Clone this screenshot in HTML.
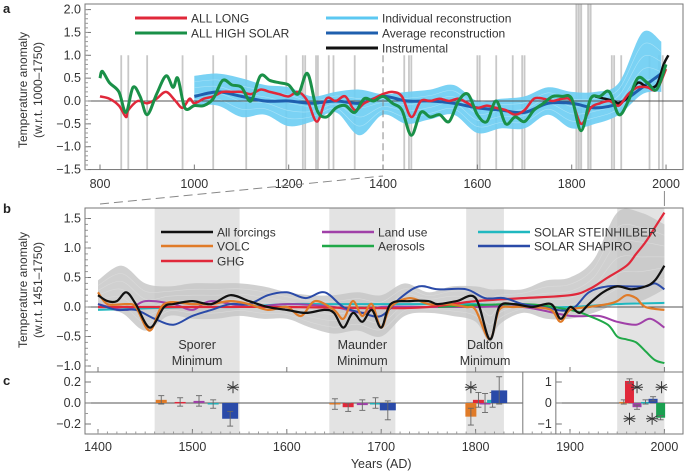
<!DOCTYPE html>
<html><head><meta charset="utf-8"><style>
html,body{margin:0;padding:0;background:#fff;}
svg{display:block;font-family:"Liberation Sans",sans-serif;}
</style></head><body>
<svg id="fig" width="685" height="471" viewBox="0 0 685 471"></svg>
<script>
// ---------- Panel a data ----------
const redYears=[800,820,840,855,860,880,900,920,940,960,975,990,1000,1020,1040,1060,1080,1100,1120,1140,1160,1180,1200,1220,1240,1260,1280,1300,1320,1340,1360,1380,1400,1420,1440,1460,1480,1500,1520,1540,1560,1580,1600,1620,1640,1660,1680,1700,1720,1740,1760,1780,1800,1820,1840,1860,1880,1900,1920,1940,1960,1980,2000];
const redVals=[0.1,0.05,-0.1,-0.35,-0.2,0.0,-0.05,0.05,0.2,0.0,-0.15,0.05,-0.05,0.05,0.1,0.2,0.2,0.2,0.15,0.25,0.2,0.15,0.1,0.2,0.0,-0.45,0.05,0.0,0.1,-0.2,-0.05,0.05,0.15,0.2,0.1,-0.35,0.0,0.0,0.05,0.0,0.05,-0.05,-0.15,-0.1,-0.15,-0.2,-0.3,-0.2,0.05,0.05,0.0,0.05,0.0,-0.5,-0.15,-0.05,0.0,-0.1,0.15,0.3,0.3,0.25,0.7];
const greenYears=[800,805,820,840,855,870,885,900,920,940,955,965,980,1000,1020,1040,1060,1080,1100,1120,1140,1160,1180,1200,1220,1240,1260,1280,1300,1320,1340,1360,1380,1400,1420,1440,1460,1480,1500,1520,1540,1560,1580,1600,1620,1640,1660,1680,1700,1720,1740,1760,1780,1800,1820,1840,1860,1880,1900,1920,1940,1960,1980,2000];
const greenVals=[0.5,0.65,0.4,0.2,-0.25,0.3,0.1,-0.3,0.15,0.55,0.3,0.5,-0.15,-0.1,-0.1,0.05,0.45,0.35,0.3,0.0,0.55,0.45,0.4,0.35,0.15,0.6,-0.2,-0.35,-0.15,-0.1,-0.25,0.05,0.0,0.1,-0.05,-0.2,-0.75,-0.25,-0.35,-0.3,-0.45,0.0,0.15,-0.3,-0.45,0.0,-0.5,-0.35,-0.45,-0.2,-0.05,0.1,0.1,0.05,-0.65,0.05,0.1,0.2,-0.3,0.0,0.5,0.4,0.25,0.8];
const avgYears=[1000,1050,1100,1150,1200,1250,1300,1350,1400,1450,1500,1550,1600,1650,1700,1750,1800,1850,1900,1950,1990];
const avgVals=[0.1,0.2,0.1,0.0,0.0,-0.05,0.0,-0.05,0.1,0.0,0.0,-0.05,-0.15,-0.2,-0.25,-0.05,-0.05,-0.15,-0.05,0.3,0.6];
const ensUpper=[0.55,0.6,0.5,0.35,0.3,0.1,0.2,0.25,0.15,0.2,0.25,0.35,0.0,0.05,0.1,0.3,0.2,0.2,0.4,1.5,1.3];
const ensLower=[-0.1,-0.1,-0.35,-0.3,-0.55,-0.45,-0.25,-0.75,-0.3,-0.5,-0.4,-0.3,-0.7,-0.6,-0.6,-0.3,-0.6,-0.5,-0.3,0.15,0.2];
const instYears=[1850,1870,1890,1900,1920,1940,1960,1980,1995,2005];
const instVals=[0.1,0.05,0.0,-0.05,0.1,0.4,0.3,0.35,0.8,1.0];
const volcYears=[845,860,900,975,1040,1110,1195,1230,1235,1258,1262,1285,1295,1340,1445,1455,1460,1600,1605,1640,1675,1695,1700,1885,1890,1905,1965,1985,1993];
const volcTall=[1810,1815,1820,1835,1840];
const aTicksX=[800,1000,1200,1400,1600,1800,2000];
const aTicksY=[2.0,1.5,1.0,0.5,0.0,-0.5,-1.0,-1.5];

// ---------- Panel b data ----------
const bEnsYears=[1400,1425,1450,1475,1500,1525,1550,1575,1600,1625,1650,1675,1700,1725,1750,1775,1800,1815,1825,1850,1875,1900,1925,1950,1975,2000];
const bEnsUpper=[0.45,0.7,0.4,0.35,0.4,0.4,0.4,0.35,0.25,0.2,0.2,0.25,0.2,0.4,0.25,0.35,0.35,0.3,0.3,0.3,0.45,0.5,0.8,1.6,1.6,1.4];
const bEnsLower=[-0.05,-0.1,-0.4,-0.15,-0.2,-0.2,-0.15,-0.2,-0.2,-0.35,-0.45,-0.4,-0.5,-0.15,-0.1,-0.15,-0.25,-0.6,-0.3,-0.1,-0.2,-0.2,-0.1,0.05,0.1,0.3];
const allYears=[1400,1410,1420,1430,1440,1455,1470,1480,1500,1520,1540,1560,1580,1600,1620,1640,1650,1660,1670,1680,1690,1700,1710,1730,1750,1760,1780,1800,1815,1825,1840,1860,1880,1890,1900,1910,1920,1935,1950,1965,1980,1990,2000];
const allVals=[0.2,0.1,0.1,0.25,0.05,-0.35,0.0,0.05,0.1,0.05,0.2,0.1,0.0,-0.05,-0.1,-0.05,-0.1,-0.35,-0.1,-0.25,-0.05,-0.35,0.05,0.1,0.1,0.05,0.1,0.15,-0.55,0.0,0.05,0.0,0.05,-0.2,0.0,-0.1,0.05,0.25,0.35,0.3,0.35,0.45,0.7];
const volcBYears=[1400,1410,1430,1440,1455,1470,1500,1520,1540,1560,1580,1600,1615,1630,1650,1660,1670,1680,1690,1700,1710,1730,1750,1770,1790,1800,1815,1825,1840,1860,1880,1890,1900,1920,1940,1950,1960,1970,1980,2000];
const volcBVals=[0.25,0.05,0.05,0.0,-0.4,0.05,0.05,0.05,0.1,0.05,-0.05,0.0,-0.15,0.1,-0.05,-0.2,0.1,-0.15,0.05,-0.35,0.0,0.15,0.05,0.05,0.0,-0.05,-0.55,-0.05,0.0,0.0,-0.05,-0.25,-0.05,0.0,0.05,0.1,0.2,0.15,0.0,-0.05];
const ghgYears=[1400,1500,1600,1700,1750,1800,1850,1900,1920,1940,1960,1970,1980,1990,2000];
const ghgVals=[0.0,0.0,0.0,-0.02,0.0,0.1,0.15,0.2,0.3,0.5,0.7,0.9,1.1,1.35,1.6];
const landYears=[1400,1430,1450,1480,1500,1520,1560,1600,1650,1680,1700,1750,1800,1850,1900,1930,1950,1970,1985,2000];
const landVals=[0.05,-0.05,0.1,0.05,-0.05,0.1,0.0,0.05,0.0,-0.1,0.0,0.0,0.0,0.0,-0.15,-0.15,-0.25,-0.3,-0.2,-0.35];
const aerYears=[1760,1850,1900,1920,1940,1950,1960,1970,1980,1990,2000];
const aerVals=[0.0,0.05,-0.05,-0.15,-0.3,-0.5,-0.55,-0.6,-0.75,-0.9,-0.95];
const steinYears=[1400,1500,1550,1600,1650,1700,1750,1800,1850,1900,1950,2000];
const steinVals=[-0.05,0.0,0.0,0.05,0.05,0.05,0.05,0.05,0.0,0.0,0.05,0.07];
const shapYears=[1400,1420,1440,1460,1480,1500,1520,1540,1560,1580,1600,1620,1640,1660,1680,1700,1720,1740,1760,1790,1810,1830,1850,1870,1900,1920,1940,1960,1980,1990,2000];
const shapVals=[0.05,-0.05,-0.05,-0.2,-0.3,-0.15,-0.05,0.05,0.05,0.2,0.25,0.15,0.25,0.0,-0.1,-0.15,0.15,0.35,0.3,0.3,0.15,0.15,0.05,0.0,-0.05,0.25,0.35,0.35,0.35,0.4,0.3];
const bands=[[1460,1550],[1645,1715],[1790,1830],[1950,2000]];
const bTicksY=[1.5,1.0,0.5,0.0,-0.5,-1.0];
const bcTicksX=[1400,1500,1600,1700,1800,1900,2000];

// ---------- Panel c data ----------
const cYears=[1467,1487,1507,1522,1540,1651,1665,1680,1694,1707,1795,1803,1810,1818,1825];
const cVals=[0.03,0.01,0.02,-0.01,-0.15,-0.01,-0.04,-0.02,0.0,-0.07,-0.13,0.03,0.0,0.03,0.12];
const cErr=[0.04,0.04,0.05,0.04,0.07,0.05,0.04,0.05,0.05,0.09,0.08,0.07,0.09,0.07,0.13];
const cColors=["#e07b28","#e0283a","#a040a8","#20b0b8","#2a4aa8","#e07b28","#e0283a","#a040a8","#20b0b8","#2a4aa8","#e07b28","#e0283a","#a040a8","#20b0b8","#2a4aa8"];
const cRYears=[1957,1963,1971,1980,1988,1996];
const cRVals=[0.05,1.05,-0.2,0.05,0.2,-0.7];
const cRColors=["#e07b28","#e0283a","#a040a8","#20b0b8","#2a4aa8","#1aa050"];
const starL=[[1543,0.15],[1795,0.15]];
const starR=[[1963,-0.75],[1971,0.75],[1987,-0.75],[1997,0.75]];

// ---------- helpers ----------
const NS="http://www.w3.org/2000/svg";
const svg=document.getElementById('fig');
function mk(tag,attrs,parent){const e=document.createElementNS(NS,tag);for(const k in attrs)e.setAttribute(k,attrs[k]);(parent||svg).appendChild(e);return e;}
function txt(s,x,y,attrs){const e=mk('text',Object.assign({x:x,y:y,'font-size':12,fill:'#333'},attrs||{}));e.textContent=s;return e;}
function smooth(pts){let d='M'+pts[0][0].toFixed(1)+','+pts[0][1].toFixed(1);for(let i=0;i<pts.length-1;i++){const p0=pts[i-1]||pts[i],p1=pts[i],p2=pts[i+1],p3=pts[i+2]||p2;const c1x=p1[0]+(p2[0]-p0[0])/6,c1y=p1[1]+(p2[1]-p0[1])/6,c2x=p2[0]-(p3[0]-p1[0])/6,c2y=p2[1]-(p3[1]-p1[1])/6;d+='C'+c1x.toFixed(1)+','+c1y.toFixed(1)+' '+c2x.toFixed(1)+','+c2y.toFixed(1)+' '+p2[0].toFixed(1)+','+p2[1].toFixed(1);}return d;}

// ---------- axes ----------
const ax=y=>100+(y-800)*0.4717, ay=v=>101-v*45.7;
const bx=y=>98+(y-1400)*0.944, by=v=>307-v*59;
const cy=v=>403-v*105, cyR=v=>403-v*21;
const L=85,R=683;

// ===== Panel a =====
const gA=mk('g',{});


volcYears.forEach(y=>{const l=mk('line',{x1:ax(y),x2:ax(y),y1:ay(1.0),y2:ay(-1.5),stroke:'#c8c8c8','stroke-width':1.8},gA);});
volcTall.forEach(y=>{const l=mk('line',{x1:ax(y),x2:ax(y),y1:4,y2:ay(-1.5),stroke:'#c8c8c8','stroke-width':2},gA);});
(function(){const up=avgYears.map((y,i)=>[ax(y),ay(ensUpper[i])]);const lo=avgYears.map((y,i)=>[ax(y),ay(ensLower[i])]).reverse();
const p=mk('path',{d:smooth(up)+'L'+smooth(lo).slice(1)+'Z',fill:'#6ccdf3',opacity:0.9},gA);
for(let k=1;k<5;k++){const f=k/5;const pts=avgYears.map((y,i)=>[ax(y),ay(ensLower[i]+(ensUpper[i]-ensLower[i])*f)]);const l=mk('path',{d:smooth(pts),fill:'none',stroke:'#a6e2f8','stroke-width':0.6},gA);}})();
mk('line',{x1:L,x2:R,y1:ay(0),y2:ay(0),stroke:'#555','stroke-width':1},gA);
mk('line',{x1:ax(1400),x2:ax(1400),y1:ay(1.0),y2:ay(-1.5),stroke:'#888','stroke-width':1,'stroke-dasharray':'7,4'},gA);
function series(g,yrs,vals,X,Y,col,w,name){const p=mk('path',{d:smooth(yrs.map((y,i)=>[X(y),Y(vals[i])])),fill:'none',stroke:col,'stroke-width':w,'stroke-linejoin':'round'},g);return p;}
series(gA,avgYears,avgVals,ax,ay,'#1f5fae',3,'average-reconstruction-line');
series(gA,instYears,instVals,ax,ay,'#111',2.5,'instrumental-line');
series(gA,redYears,redVals,ax,ay,'#e0283a',2.5,'all-long-line');
series(gA,greenYears,greenVals,ax,ay,'#1a9048',3,'all-high-solar-line');
mk('rect',{x:L,y:4,width:R-L,height:ay(-1.5)-4,fill:'none',stroke:'#777','stroke-width':1},gA);
aTicksY.forEach(v=>{mk('line',{x1:L,x2:L+6,y1:ay(v),y2:ay(v),stroke:'#777'},gA);const t=txt(v.toFixed(1).replace('-','−'),L-4,ay(v)+4,{'text-anchor':'end','font-size':12.5});});
for(let v=-1.5;v<=2.0001;v+=0.1){mk('line',{x1:L,x2:L+3,y1:ay(v),y2:ay(v),stroke:'#999'},gA);}
aTicksX.forEach(y=>{mk('line',{x1:ax(y),x2:ax(y),y1:ay(-1.5),y2:ay(-1.5)-5,stroke:'#777'},gA);const t=txt(String(y),ax(y),188,{'text-anchor':'middle','font-size':12.5});});
let t=txt('Temperature anomaly',27,90,{'text-anchor':'middle','font-size':12,transform:'rotate(-90 27 90)'});
t=txt('(w.r.t. 1000–1750)',42,90,{'text-anchor':'middle','font-size':12,transform:'rotate(-90 42 90)'});
t=txt('a',3,13,{'font-weight':'bold','font-size':13,fill:'#222'});
function legend(g,x,y,col,label,w){const l=mk('line',{x1:x,x2:x+52,y1:y,y2:y,stroke:col,'stroke-width':w||3},g);const tt=txt(label,x+56,y+4.5,{'font-size':12});}
legend(gA,135,18,'#e0283a','ALL LONG');
legend(gA,135,33,'#1a9048','ALL HIGH SOLAR');
legend(gA,326,18,'#5cc8f2','Individual reconstruction');
legend(gA,326,33,'#1f5fae','Average reconstruction');
legend(gA,326,48,'#111','Instrumental');

mk('line',{x1:100,x2:ax(1400),y1:204,y2:176,stroke:'#888','stroke-width':1,'stroke-dasharray':'9,5'});
mk('line',{x1:bx(2000),x2:bx(2000),y1:191,y2:206,stroke:'#888','stroke-width':1});

// ===== Panel b =====
const gB=mk('g',{});


bands.forEach(b=>{const r=mk('rect',{x:bx(b[0]),y:208,width:bx(b[1])-bx(b[0]),height:434-208,fill:'#e3e3e3'},gB);});
(function(){const up=bEnsYears.map((y,i)=>[bx(y),by(bEnsUpper[i])]);const lo=bEnsYears.map((y,i)=>[bx(y),by(bEnsLower[i])]).reverse();
const p=mk('path',{d:smooth(up)+'L'+smooth(lo).slice(1)+'Z',fill:'#c4c4c4',opacity:0.8},gB);
for(let k=1;k<6;k++){const f=k/6;const pts=bEnsYears.map((y,i)=>[bx(y),by(bEnsLower[i]+(bEnsUpper[i]-bEnsLower[i])*f)]);mk('path',{d:smooth(pts),fill:'none',stroke:'#dadada','stroke-width':0.6},gB);}})();
mk('line',{x1:L,x2:R,y1:by(0),y2:by(0),stroke:'#555','stroke-width':1},gB);
series(gB,steinYears,steinVals,bx,by,'#20b8c0',2,'solar-steinhilber-line');
series(gB,landYears,landVals,bx,by,'#a040a8',2,'land-use-line');
series(gB,aerYears,aerVals,bx,by,'#20a848',2,'aerosols-line');
series(gB,ghgYears,ghgVals,bx,by,'#e0283a',2.2,'ghg-line');
series(gB,shapYears,shapVals,bx,by,'#2a4aa8',2,'solar-shapiro-line');
series(gB,volcBYears,volcBVals,bx,by,'#e07b28',2.2,'volc-line');
series(gB,allYears,allVals,bx,by,'#111',2.2,'all-forcings-line');
bTicksY.forEach(v=>{mk('line',{x1:L,x2:L+6,y1:by(v),y2:by(v),stroke:'#777'},gB);const tt=txt(v.toFixed(1).replace('-','−'),L-4,by(v)+4,{'text-anchor':'end','font-size':12.5});});
for(let v=-1.0;v<=1.6;v+=0.1){mk('line',{x1:L,x2:L+3,y1:by(v),y2:by(v),stroke:'#999'},gB);}
mk('rect',{x:L,y:208,width:R-L,height:372-208,fill:'none',stroke:'#777','stroke-width':1},gB);
t=txt('Temperature anomaly',27,290,{'text-anchor':'middle','font-size':12,transform:'rotate(-90 27 290)'});
t=txt('(w.r.t. 1451–1750)',42,290,{'text-anchor':'middle','font-size':12,transform:'rotate(-90 42 290)'});
t=txt('b',3,213,{'font-weight':'bold','font-size':13,fill:'#222'});
legend(gB,161,232,'#111','All forcings',2.5);
legend(gB,161,246,'#e07b28','VOLC',2.5);
legend(gB,161,261,'#e0283a','GHG',2.5);
legend(gB,322,232,'#a040a8','Land use',2.5);
legend(gB,322,246,'#20a848','Aerosols',2.5);
legend(gB,478,232,'#20b8c0','SOLAR STEINHILBER',2.5);
legend(gB,478,246,'#2a4aa8','SOLAR SHAPIRO',2.5);
[['Sporer',1505],['Maunder',1680],['Dalton',1810]].forEach(m=>{let a=txt(m[0],bx(m[1]),349,{'text-anchor':'middle','font-size':12.5});a=txt('Minimum',bx(m[1]),365,{'text-anchor':'middle','font-size':12.5});});

// ===== Panel c =====
const gC=mk('g',{});


const divX=bx(1850), rAx=bx(1885);
mk('line',{x1:L,x2:divX,y1:cy(0),y2:cy(0),stroke:'#555'},gC);
mk('line',{x1:rAx,x2:R,y1:cy(0),y2:cy(0),stroke:'#555'},gC);
function errbar(g,x,v0,v1,Y){mk('line',{x1:x,x2:x,y1:Y(v0),y2:Y(v1),stroke:'#666','stroke-width':0.9},g);[v0,v1].forEach(v=>mk('line',{x1:x-3,x2:x+3,y1:Y(v),y2:Y(v),stroke:'#666','stroke-width':0.9},g));}
cYears.forEach((y,i)=>{const w=(i%5==4)?16:11;const v=cVals[i];const r=mk('rect',{x:bx(y)-w/2,y:Math.min(cy(v),cy(0)),width:w,height:Math.max(Math.abs(cy(v)-cy(0)),1.5),fill:cColors[i]},gC);errbar(gC,bx(y),v-cErr[i],v+cErr[i],cy);});
cRYears.forEach((y,i)=>{const v=cRVals[i];const r=mk('rect',{x:bx(y)-4.5,y:Math.min(cyR(v),cyR(0)),width:9,height:Math.max(Math.abs(cyR(v)-cyR(0)),1.5),fill:cRColors[i]},gC);errbar(gC,bx(y),v-0.1,v+0.1,cyR);});
function star(x,y){const g=mk('g',{},gC);for(let a=0;a<3;a++){const an=a*Math.PI/3+Math.PI/2;mk('line',{x1:x-6*Math.cos(an),y1:y-6*Math.sin(an),x2:x+6*Math.cos(an),y2:y+6*Math.sin(an),stroke:'#333','stroke-width':1},g);}mk('line',{x1:x-6,x2:x+6,y1:y,y2:y,stroke:'#333','stroke-width':1},g);}
starL.forEach(s=>star(bx(s[0]),cy(s[1])));
starR.forEach(s=>star(bx(s[0]),cyR(s[1])));
mk('rect',{x:L,y:372,width:R-L,height:434-372,fill:'none',stroke:'#777'},gC);
mk('line',{x1:divX,x2:divX,y1:372,y2:434,stroke:'#777'},gC);
mk('line',{x1:rAx,x2:rAx,y1:372,y2:434,stroke:'#777'},gC);
[0.2,0.0,-0.2].forEach(v=>{mk('line',{x1:L,x2:L+6,y1:cy(v),y2:cy(v),stroke:'#777'},gC);const tt=txt(v.toFixed(1).replace('-','−'),L-4,cy(v)+4,{'text-anchor':'end','font-size':12.5});});
[-0.3,-0.1,0.1,0.3].forEach(v=>{if(cy(v)>372&&cy(v)<434)mk('line',{x1:L,x2:L+3,y1:cy(v),y2:cy(v),stroke:'#999'},gC);});
[1,0,-1].forEach(v=>{mk('line',{x1:rAx,x2:rAx+6,y1:cyR(v),y2:cyR(v),stroke:'#777'},gC);const tt=txt(v==-1?'−1':String(v),rAx-4,cyR(v)+4,{'text-anchor':'end','font-size':12.5});});
bcTicksX.forEach(y=>{mk('line',{x1:bx(y),x2:bx(y),y1:434,y2:429,stroke:'#777'},gC);mk('line',{x1:bx(y),x2:bx(y),y1:372,y2:367,stroke:'#777'},gC);const tt=txt(String(y),bx(y),451,{'text-anchor':'middle','font-size':12.5});});
for(let y=1400;y<=2000;y+=10){mk('line',{x1:bx(y),x2:bx(y),y1:434,y2:431.5,stroke:'#999'},gC);}
t=txt('c',3,385,{'font-weight':'bold','font-size':13,fill:'#222'});
t=txt('Years (AD)',bx(1700),468,{'text-anchor':'middle','font-size':12.5});
</script>
</body></html>
